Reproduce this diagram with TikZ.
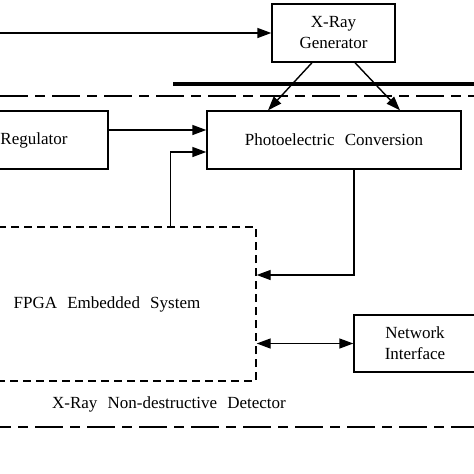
\documentclass[tikz,border=0pt]{standalone}
\usepackage{fontspec}
\setmainfont[WordSpace=2.4]{Liberation Serif}
\usetikzlibrary{arrows.meta}

\begin{document}
\begin{tikzpicture}[x=1pt, y=-1pt,
  font=\fontsize{17}{21}\selectfont,
  >={Triangle[length=14pt,width=10pt]},
  block/.style={draw, line width=1.4pt, minimum height=58pt, align=center, inner sep=0pt},
  flow/.style={line width=1.4pt, ->},
  border/.style={line width=1.7pt, dash pattern=on 28pt off 7pt on 10pt off 7pt}]
  \useasboundingbox (0,0) rectangle (474,474);
  \clip (0,0) rectangle (474,474);

  % blocks
  \node[block, minimum width=123pt] (gen) at (333.5,33) {X-Ray\\Generator};
  \node[block, minimum width=254pt] (photo) at (334,140) {Photoelectric Conversion};
  \node[block, minimum width=148pt] (reg) at (34,140) {Regulator};
  \node[block, minimum width=122pt, minimum height=57pt] (net) at (415,343.5) {Network\\Interface};
  \node[draw, line width=1.4pt, dash pattern=on 8pt off 5pt,
        minimum width=298pt, minimum height=154pt] (fpga) at (107,304) {FPGA Embedded System};

  % borders
  \draw[line width=3.5pt] (173,84) -- (480,84);
  \draw[border] (0,96) -- (480,96);
  \draw[border] (-17,427) -- (480,427);

  % connectors
  \coordinate (src) at (-10,33);
  \draw[flow] (src) -- (gen.west);
  \draw[flow] ([xshift=-21.5pt]gen.south) -- ([xshift=-66pt]photo.north);
  \draw[flow] ([xshift=21.5pt]gen.south) -- ([xshift=66pt]photo.north);
  \draw[flow] ([yshift=10pt]reg.east) -- ([yshift=10pt]photo.west);
  \draw[flow] ([xshift=-86pt]fpga.north east) |- ([yshift=-12pt]photo.west);
  \draw[flow] ([xshift=20pt]photo.south) |- ([yshift=29pt]fpga.east);
  \draw[flow, <->] (fpga.east |- net.west) -- (net.west);

  % labels
  \node (det) at (169,404) {X-Ray Non-destructive Detector};
\end{tikzpicture}
\end{document}
